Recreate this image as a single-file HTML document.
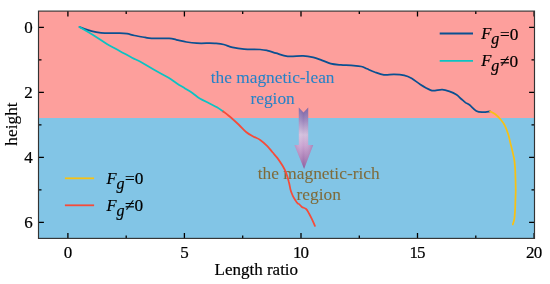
<!DOCTYPE html>
<html><head><meta charset="utf-8"><style>
html,body{margin:0;padding:0;background:#fff;}
svg{display:block;}
text{font-family:"Liberation Serif","Times New Roman",serif;}
</style></head><body>
<svg width="550" height="284" viewBox="0 0 550 284">
<defs>
<linearGradient id="ash" gradientUnits="userSpaceOnUse" x1="0" y1="107" x2="0" y2="169">
<stop offset='0' stop-color='#765ca0'/><stop offset='0.22' stop-color='#9c86bc'/><stop offset='0.45' stop-color='#d2bedc'/><stop offset='0.62' stop-color='#c9a2d0'/><stop offset='1' stop-color='#8e5e9e'/>
</linearGradient>
<linearGradient id="av" gradientUnits="userSpaceOnUse" x1="293.6" y1="0" x2="313.5" y2="0">
<stop offset='0' stop-color='#5a3c84' stop-opacity='0.2'/><stop offset='0.35' stop-color='#ffffff' stop-opacity='0.1'/><stop offset='0.5' stop-color='#ffffff' stop-opacity='0'/><stop offset='1' stop-color='#5a3a80' stop-opacity='0.35'/>
</linearGradient>
</defs>
<rect x="38.5" y="11.1" width="496.0" height="106.9" fill="#fd9f9c"/>
<rect x="38.5" y="118" width="496.0" height="120.4" fill="#82c5e6"/>
<text transform="translate(272.6,82.5) scale(1.01,1)" font-size="17.2" text-anchor="middle" fill="#2582c8" stroke="#2582c8" stroke-width="0.05">the magnetic-lean</text><text transform="translate(272.6,103.5) scale(1.01,1)" font-size="17.2" text-anchor="middle" fill="#2582c8" stroke="#2582c8" stroke-width="0.05">region</text><text transform="translate(318.7,179.1) scale(1.01,1)" font-size="17.2" text-anchor="middle" fill="#7f6b3a" stroke="#7f6b3a" stroke-width="0.05">the magnetic-rich</text><text transform="translate(318.7,199.5) scale(1.01,1)" font-size="17.2" text-anchor="middle" fill="#7f6b3a" stroke="#7f6b3a" stroke-width="0.05">region</text>
<g fill="none" stroke-width="1.75" stroke-linejoin="round" stroke-linecap="round">
<path d="M79.5,27.0 C80.8,27.5 84.9,29.1 87.5,29.9 C90.1,30.7 92.1,31.3 95.0,31.8 C97.9,32.3 100.8,32.9 104.9,33.1 C109.0,33.3 115.9,33.0 119.6,33.1 C123.3,33.2 124.5,33.3 127.0,33.7 C129.5,34.1 131.4,34.9 134.4,35.5 C137.4,36.1 142.1,36.9 145.0,37.4 C147.9,37.9 147.6,38.2 151.6,38.4 C155.6,38.6 165.0,38.2 169.1,38.4 C173.2,38.6 173.5,39.2 176.4,39.8 C179.3,40.4 183.1,41.4 186.5,42.0 C189.9,42.6 192.8,43.0 196.7,43.2 C200.6,43.4 206.8,43.2 209.8,43.2 C212.9,43.2 212.7,43.2 215.0,43.4 C217.3,43.6 220.8,43.8 223.7,44.5 C226.6,45.2 229.1,46.6 232.5,47.4 C235.9,48.2 239.5,48.8 244.1,49.1 C248.7,49.5 256.2,49.2 260.1,49.5 C264.0,49.8 264.7,50.0 267.4,50.6 C270.1,51.2 272.7,52.2 276.1,53.2 C279.5,54.2 283.2,55.8 287.7,56.3 C292.2,56.8 298.8,55.7 303.1,55.9 C307.4,56.1 310.2,56.7 313.3,57.4 C316.4,58.1 319.1,59.3 322.0,60.3 C324.9,61.3 327.6,62.8 330.7,63.6 C333.8,64.4 337.5,64.6 340.9,64.9 C344.3,65.2 347.7,65.1 351.1,65.4 C354.5,65.7 358.7,65.9 361.3,66.5 C363.9,67.1 364.7,67.8 367.0,68.8 C369.3,69.8 372.2,71.2 375.0,72.2 C377.8,73.2 380.7,74.4 383.9,74.8 C387.1,75.2 390.7,74.3 394.1,74.4 C397.5,74.5 401.4,74.8 404.3,75.4 C407.2,76.1 408.8,76.8 411.5,78.3 C414.2,79.8 417.1,82.5 420.3,84.5 C423.5,86.5 428.1,89.1 430.5,90.1 C432.9,91.1 433.1,90.7 435.0,90.6 C436.9,90.5 439.8,89.6 442.2,89.7 C444.6,89.8 447.0,90.6 449.4,91.4 C451.8,92.2 454.6,93.5 456.6,94.8 C458.6,96.1 459.8,97.7 461.3,99.0 C462.8,100.3 464.1,101.6 465.5,102.6 C466.9,103.6 467.9,103.6 469.7,105.0 C471.5,106.4 474.1,109.7 476.3,110.9 C478.5,112.1 480.6,112.0 482.9,112.1 C485.2,112.2 488.9,111.4 490.1,111.3" stroke="#0a5091"/>
<path d="M79.5,27.0 C82.1,28.5 90.4,33.3 95.0,36.2 C99.6,39.1 103.2,41.8 107.3,44.2 C111.4,46.7 115.5,48.6 119.6,50.9 C123.7,53.1 128.6,55.9 132.0,57.7 C135.4,59.5 136.3,59.5 140.0,61.5 C143.7,63.5 149.4,67.1 154.1,69.8 C158.8,72.5 164.4,75.3 168.2,77.5 C171.9,79.7 173.8,81.4 176.6,83.2 C179.4,85.0 182.4,86.8 185.0,88.4 C187.6,90.0 189.9,91.3 192.4,93.0 C194.9,94.7 196.9,96.8 199.8,98.5 C202.7,100.2 206.7,102.0 209.6,103.5 C212.5,105.0 214.7,105.9 217.0,107.2 C219.3,108.5 222.2,110.8 223.2,111.5" stroke="#0ac3c3"/>
<path d="M223.2,111.5 C224.0,112.1 226.6,114.0 228.1,115.2 C229.6,116.4 230.2,116.9 232.0,118.5 C233.8,120.1 236.8,122.8 239.1,125.0 C241.4,127.2 243.8,130.1 246.1,132.0 C248.4,133.9 250.8,135.1 253.2,136.4 C255.5,137.7 257.8,138.3 260.2,139.9 C262.6,141.5 265.2,144.0 267.3,146.1 C269.4,148.2 270.8,150.3 272.5,152.3 C274.2,154.3 275.6,155.7 277.3,157.9 C279.0,160.2 281.1,163.3 282.6,165.8 C284.1,168.3 285.1,170.2 286.1,172.9 C287.1,175.6 288.1,178.8 288.8,181.7 C289.6,184.5 290.0,187.7 290.6,190.0 C291.2,192.3 291.9,193.8 292.7,195.6 C293.5,197.4 294.8,199.3 295.6,200.6 C296.4,201.9 297.1,202.8 297.7,203.4 C298.3,204.0 298.4,203.5 299.1,204.1 C299.8,204.7 300.7,206.1 301.9,206.9 C303.1,207.7 304.9,207.9 306.1,209.0 C307.3,210.1 307.9,211.5 308.9,213.2 C309.8,214.8 310.8,216.8 311.8,218.9 C312.8,221.0 314.4,224.7 314.9,225.9" stroke="#f64b39"/>
<path d="M490.1,111.3 C491.0,111.8 493.8,113.1 495.6,114.5 C497.4,115.9 499.3,117.9 500.9,119.8 C502.5,121.7 503.9,123.6 505.1,126.1 C506.3,128.6 507.4,131.8 508.3,134.6 C509.2,137.4 509.7,140.3 510.4,143.1 C511.1,145.9 511.9,148.7 512.5,151.5 C513.1,154.3 513.8,156.9 514.3,160.0 C514.8,163.1 515.0,166.7 515.2,170.0 C515.4,173.3 515.4,176.7 515.5,180.0 C515.6,183.3 515.7,186.7 515.7,190.0 C515.7,193.3 515.5,196.8 515.4,200.0 C515.3,203.2 515.3,206.1 515.1,209.3 C514.9,212.5 514.7,216.6 514.3,219.1 C513.9,221.6 513.0,223.6 512.8,224.5" stroke="#f7c114"/>
</g>
<path d="M298.8,107.6 L303.5,112.6 L308.2,107.6 V145.1 H313.2 L304.1,169 L294.4,145.1 H298.8 Z" fill="url(#ash)"/>
<path d="M298.8,107.6 L303.5,112.6 L308.2,107.6 V145.1 H313.2 L304.1,169 L294.4,145.1 H298.8 Z" fill="url(#av)"/>
<path d="M67.9,238.4V233.0M67.9,11.1V16.5M184.4,238.4V233.0M184.4,11.1V16.5M301.0,238.4V233.0M301.0,11.1V16.5M417.5,238.4V233.0M417.5,11.1V16.5M534.1,238.4V233.0M534.1,11.1V16.5M126.2,238.4V235.4M126.2,11.1V14.1M242.7,238.4V235.4M242.7,11.1V14.1M359.3,238.4V235.4M359.3,11.1V14.1M475.8,238.4V235.4M475.8,11.1V14.1M38.5,27.4H43.9M534.5,27.4H529.1M38.5,92.4H43.9M534.5,92.4H529.1M38.5,157.4H43.9M534.5,157.4H529.1M38.5,222.4H43.9M534.5,222.4H529.1M38.5,59.9H41.5M534.5,59.9H531.5M38.5,124.9H41.5M534.5,124.9H531.5M38.5,189.9H41.5M534.5,189.9H531.5" stroke="#000" stroke-width="1.3" fill="none"/>
<rect x="38.5" y="11.1" width="496.0" height="227.3" stroke="#333" stroke-width="1.15" fill="none"/>
<text transform="translate(67.9,258.3) scale(1,1.03)" font-size="17" text-anchor="middle" fill="#000" stroke="#000" stroke-width="0.2">0</text><text transform="translate(184.45,258.3) scale(1,1.03)" font-size="17" text-anchor="middle" fill="#000" stroke="#000" stroke-width="0.2">5</text><text transform="translate(301.0,258.3) scale(1,1.03)" font-size="17" text-anchor="middle" fill="#000" stroke="#000" stroke-width="0.2">1<tspan dx="-0.9">0</tspan></text><text transform="translate(417.55,258.3) scale(1,1.03)" font-size="17" text-anchor="middle" fill="#000" stroke="#000" stroke-width="0.2">1<tspan dx="-0.9">5</tspan></text><text transform="translate(534.1,258.3) scale(1,1.03)" font-size="17" text-anchor="middle" fill="#000" stroke="#000" stroke-width="0.2">2<tspan dx="-0.9">0</tspan></text>
<text transform="translate(32.7,33.0) scale(1,1.03)" font-size="17" text-anchor="end" fill="#000" stroke="#000" stroke-width="0.2">0</text><text transform="translate(32.7,98.0) scale(1,1.03)" font-size="17" text-anchor="end" fill="#000" stroke="#000" stroke-width="0.2">2</text><text transform="translate(32.7,163.0) scale(1,1.03)" font-size="17" text-anchor="end" fill="#000" stroke="#000" stroke-width="0.2">4</text><text transform="translate(32.7,228.0) scale(1,1.03)" font-size="17" text-anchor="end" fill="#000" stroke="#000" stroke-width="0.2">6</text>
<text transform="translate(256.3,274.9) scale(1.0,1.0)" font-size="17" text-anchor="middle" fill="#000" stroke="#000" stroke-width="0.2">Length ratio</text>
<text transform="translate(16.7,124.0) rotate(-90) scale(1.02,0.97)" font-size="17" text-anchor="middle" stroke="#000" stroke-width="0.1">height</text>
<line x1="439.7" y1="33.5" x2="473.0" y2="33.5" stroke="#0a5091" stroke-width="1.8"/><line x1="439.7" y1="60.8" x2="473.0" y2="60.8" stroke="#0ac3c3" stroke-width="1.8"/><text transform="translate(481.3,38.9) scale(1,1)" font-size="16.5" text-anchor="start" fill="#000" stroke="#000" stroke-width="0.2" font-style="italic">F</text><text transform="translate(491.3,44.3) scale(1,1)" font-size="16" text-anchor="start" fill="#000" stroke="#000" stroke-width="0.2" font-style="italic">g</text><text transform="translate(499.9,39.6) scale(1,1.01)" font-size="17.3" text-anchor="start" fill="#000" stroke="#000" stroke-width="0.2">=0</text><text transform="translate(481.3,65.9) scale(1,1)" font-size="16.5" text-anchor="start" fill="#000" stroke="#000" stroke-width="0.2" font-style="italic">F</text><text transform="translate(491.3,71.3) scale(1,1)" font-size="16" text-anchor="start" fill="#000" stroke="#000" stroke-width="0.2" font-style="italic">g</text><text transform="translate(499.9,66.6) scale(1,1.01)" font-size="17.3" text-anchor="start" fill="#000" stroke="#000" stroke-width="0.2">&#8800;0</text>
<line x1="64.9" y1="178.3" x2="94.10000000000001" y2="178.3" stroke="#f7c114" stroke-width="1.8"/><line x1="64.9" y1="205.3" x2="94.10000000000001" y2="205.3" stroke="#f64b39" stroke-width="1.8"/><text transform="translate(106.5,183.7) scale(1,1)" font-size="16.5" text-anchor="start" fill="#000" stroke="#000" stroke-width="0.2" font-style="italic">F</text><text transform="translate(116.5,189.1) scale(1,1)" font-size="16" text-anchor="start" fill="#000" stroke="#000" stroke-width="0.2" font-style="italic">g</text><text transform="translate(125.1,184.4) scale(1,1.01)" font-size="17.3" text-anchor="start" fill="#000" stroke="#000" stroke-width="0.2">=0</text><text transform="translate(106.5,210.7) scale(1,1)" font-size="16.5" text-anchor="start" fill="#000" stroke="#000" stroke-width="0.2" font-style="italic">F</text><text transform="translate(116.5,216.1) scale(1,1)" font-size="16" text-anchor="start" fill="#000" stroke="#000" stroke-width="0.2" font-style="italic">g</text><text transform="translate(125.1,211.4) scale(1,1.01)" font-size="17.3" text-anchor="start" fill="#000" stroke="#000" stroke-width="0.2">&#8800;0</text>
</svg>
</body></html>
